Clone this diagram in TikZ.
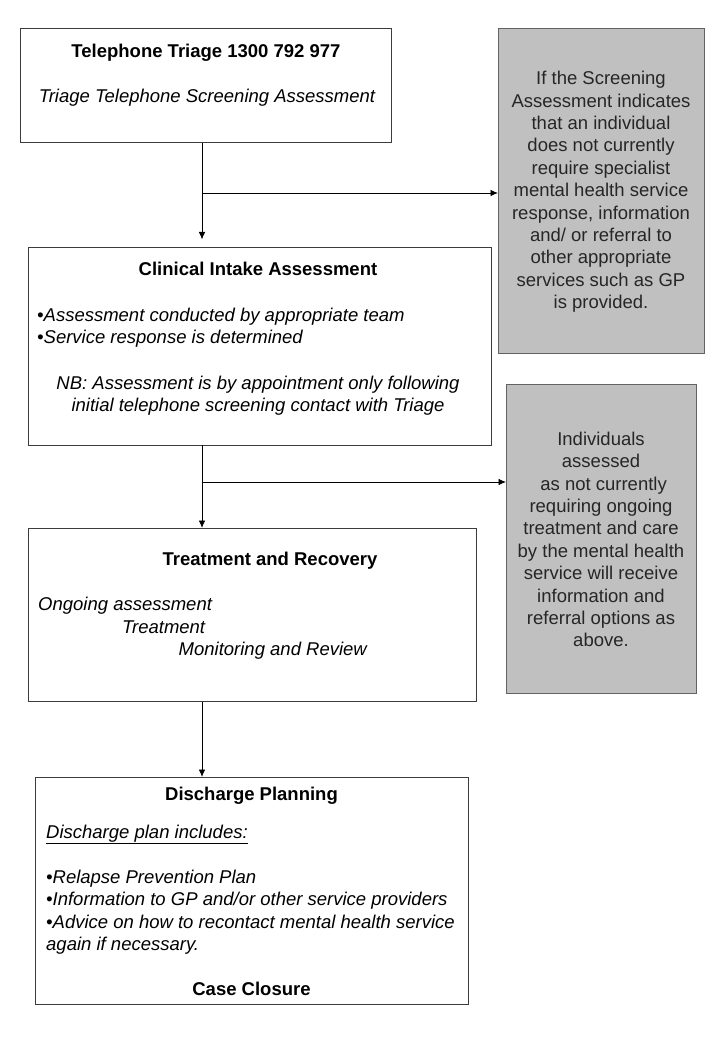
\documentclass[tikz,border=0pt]{standalone}
\usepackage{fontspec}
\setmainfont{Liberation Sans}
\usetikzlibrary{arrows.meta}
\definecolor{greyfill}{RGB}{192,192,192}
\definecolor{lineclr}{RGB}{60,60,60}
\tikzset{
  box/.style={draw=lineclr, line width=0.9pt, fill=white, anchor=north west, inner sep=0pt},
  greybox/.style={draw=lineclr!80, line width=0.9pt, fill=greyfill, anchor=north west, inner sep=0pt},
  txt/.style={inner sep=0pt, font=\fontsize{18.5}{22.4}\selectfont},
  ttl/.style={txt, font=\fontsize{18.5}{22.4}\selectfont\bfseries, anchor=base},
  itl/.style={txt, font=\fontsize{18.5}{22.4}\selectfont\itshape},
  greytxt/.style={txt, align=center, text=black!85},
  arr/.style={draw=black, line width=0.9pt, -{Latex[length=7.5pt,width=6.5pt]}},
}
\begin{document}
\begin{tikzpicture}[x=1pt,y=-1pt]
\useasboundingbox[fill=white] (0,0) rectangle (720,1040);

% boxes
\node[box, minimum width=371, minimum height=114] (b1) at (20,28) {};
\node[greybox, minimum width=206, minimum height=325] (g1) at (498,28) {};
\node[box, minimum width=463, minimum height=197] (b2) at (27.5,247.5) {};
\node[greybox, minimum width=190, minimum height=309] (g2) at (506,384) {};
\node[box, minimum width=448, minimum height=173] (b3) at (27.5,528) {};
\node[box, minimum width=433, minimum height=227] (b4) at (35,777) {};

% box 1 texts
\node[ttl] (t1a) at (206,58) {Telephone Triage 1300 792 977};
\node[itl, anchor=base] (t1b) at (207,103) {Triage Telephone Screening Assessment};

% grey box 1 text
\node[greytxt] (g1t) at (601,192) {If the Screening\\Assessment indicates\\that an individual\\does not currently\\require specialist\\mental health service\\response, information\\and/ or referral to\\other appropriate\\services such as GP\\is provided.};

% box 2 texts
\node[ttl] (t2a) at (258,275.5) {Clinical Intake Assessment};
\node[itl, anchor=base west] (t2b) at (37,321) {•Assessment conducted by appropriate team};
\node[itl, anchor=base west] (t2c) at (37,343.5) {•Service response is determined};
\node[itl, anchor=base] (t2d) at (258,389) {NB: Assessment is by appointment only following};
\node[itl, anchor=base] (t2e) at (258,411) {initial telephone screening contact with Triage};

% grey box 2 text
\node[greytxt] (g2t) at (601,539.5) {Individuals\\assessed\\\ as not currently\\requiring ongoing\\treatment and care\\by the mental health\\service will receive\\information and\\referral options as\\above.};

% box 3 texts
\node[ttl] (t3a) at (270,565) {Treatment and Recovery};
\node[itl, anchor=base west] (t3b) at (38,610) {Ongoing assessment};
\node[itl, anchor=base west] (t3c) at (122,633) {Treatment};
\node[itl, anchor=base west] (t3d) at (178.5,655) {Monitoring and Review};

% box 4 texts
\node[ttl] (t4a) at (251.5,800) {Discharge Planning};
\node[itl, anchor=base west] (t4b) at (46,838) {\underline{Discharge plan includes:}};
\node[itl, anchor=base west] (t4c) at (46,883) {•Relapse Prevention Plan};
\node[itl, anchor=base west] (t4d) at (46,905.5) {•Information to GP and/or other service providers};
\node[itl, anchor=base west] (t4e) at (46,928) {•Advice on how to recontact mental health service};
\node[itl, anchor=base west] (t4f) at (46,950.5) {again if necessary.};
\node[ttl] (t4g) at (251.5,995) {Case Closure};

% connectors
\coordinate (j1) at (202,193);
\coordinate (j2) at (202,482);
\coordinate (x3) at (202,700);
\draw[arr, shorten >=8pt] (b1.south -| j1) -- (b2.north -| j1);
\draw[arr] (j1) -- (j1 -| g1.west);
\draw[arr] (b2.south -| j2) -- (b3.north -| j2);
\draw[arr] (j2) -- (j2 -| g2.west);
\draw[arr] (b3.south -| x3) -- (b4.north -| x3);
\end{tikzpicture}
\end{document}
